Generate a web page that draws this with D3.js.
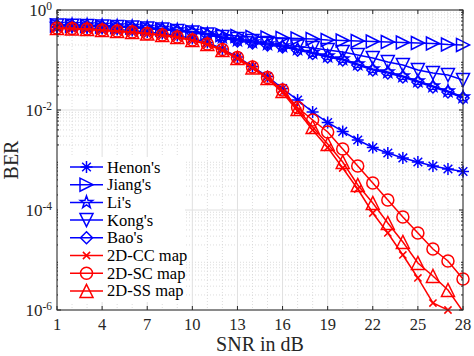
<!DOCTYPE html>
<html><head><meta charset="utf-8">
<script src="https://cdn.jsdelivr.net/npm/d3@7"></script>
<style>body{margin:0;background:#fff}svg{display:block}text{font-family:"Liberation Serif","Times New Roman",serif;fill:#262626}</style>
</head><body><svg id="c" width="474" height="356"></svg>
<script>
const snr = [1,2,3,4,5,6,7,8,9,10,11,12,13,14,15,16,17,18,19,20,21,22,23,24,25,26,27,28];
const xTicks = [1,4,7,10,13,16,19,22,25,28];
const yTicks = [1e-6,1e-4,1e-2,1];
const yTickExp = ["-6","-4","-2","0"];
const henon = [0.457,0.447,0.437,0.427,0.407,0.389,0.363,0.339,0.309,0.269,0.224,0.166,0.115,0.0741,0.0468,0.0269,0.0158,0.00912,0.00562,0.00372,0.00251,0.00178,0.00138,0.0011,0.000912,0.000759,0.000661,0.000589];
const jiang = [0.490,0.484,0.479,0.468,0.457,0.447,0.427,0.407,0.389,0.363,0.339,0.316,0.302,0.288,0.282,0.275,0.269,0.263,0.251,0.245,0.240,0.234,0.229,0.224,0.219,0.214,0.204,0.200];
const li = [0.513,0.507,0.501,0.490,0.479,0.468,0.447,0.426,0.398,0.372,0.331,0.288,0.251,0.229,0.209,0.191,0.166,0.141,0.120,0.105,0.0832,0.0661,0.0576,0.0479,0.0380,0.0302,0.0240,0.0182];
const kong = [0.490,0.484,0.479,0.468,0.457,0.447,0.427,0.407,0.380,0.355,0.324,0.288,0.263,0.240,0.219,0.200,0.186,0.174,0.158,0.145,0.126,0.110,0.0912,0.0794,0.0631,0.0550,0.0501,0.0398];
const bao = [0.490,0.484,0.479,0.468,0.457,0.447,0.427,0.407,0.380,0.355,0.316,0.275,0.240,0.219,0.200,0.182,0.158,0.135,0.115,0.100,0.0794,0.0631,0.0550,0.0457,0.0363,0.0288,0.0229,0.0174];
const cc = [0.427,0.417,0.407,0.389,0.372,0.355,0.331,0.309,0.282,0.245,0.204,0.155,0.107,0.0692,0.0417,0.0224,0.00955,0.00398,0.00178,6.92e-4,2.63e-4,8.71e-5,3.47e-5,1.26e-5,4.37e-6,1.38e-6,1.0e-6,3.16e-7];
const sc = [0.437,0.427,0.417,0.398,0.380,0.363,0.339,0.316,0.288,0.251,0.209,0.162,0.112,0.0724,0.0447,0.0251,0.0112,0.00631,0.00363,0.00166,7.59e-4,3.47e-4,1.58e-4,7.24e-5,3.47e-5,1.66e-5,9.55e-6,4.17e-6];
const ss = [0.437,0.427,0.417,0.398,0.380,0.363,0.339,0.316,0.288,0.251,0.209,0.158,0.110,0.0708,0.0437,0.0240,0.0105,0.00457,0.00209,9.12e-4,3.16e-4,1.38e-4,5.50e-5,2.29e-5,8.71e-6,4.79e-6,2.51e-6,9.33e-7];
const names = ["Henon's","Jiang's","Li's","Kong's","Bao's","2D-CC map","2D-SC map","2D-SS map"];
const seriesVals = [henon,jiang,li,kong,bao,cc,sc,ss];
const markers = ["asterisk","tri-right","star","tri-down","diamond","x","circle","tri-up"];
const colors = ["#0000ff","#0000ff","#0000ff","#0000ff","#0000ff","#ff0000","#ff0000","#ff0000"];

const svg = d3.select("#c");
const L=57,T=10,W=406,H=300;
const x = d3.scaleLinear().domain([1,28]).range([L,L+W]);
const y = d3.scaleLog().domain([1e-6,1]).range([T+H,T]);

// grids
const g = svg.append("g");
const minorY=[];
for(let e=-6;e<0;e++) for(let k=2;k<=9;k++) minorY.push(k*Math.pow(10,e));
const minorX = snr.filter(v=>!xTicks.includes(v));
g.selectAll(".mgy").data(minorY).join("line").attr("x1",L).attr("x2",L+W).attr("y1",d=>y(d)).attr("y2",d=>y(d))
 .attr("stroke","#d4d4d4").attr("stroke-width",0.8).attr("stroke-dasharray","1,2");
g.selectAll(".mgx").data(minorX).join("line").attr("y1",T).attr("y2",T+H).attr("x1",d=>x(d)).attr("x2",d=>x(d))
 .attr("stroke","#d4d4d4").attr("stroke-width",0.8).attr("stroke-dasharray","1,2");
g.selectAll(".gy").data(yTicks).join("line").attr("x1",L).attr("x2",L+W).attr("y1",d=>y(d)).attr("y2",d=>y(d))
 .attr("stroke","#e0e0e0").attr("stroke-width",1);
g.selectAll(".gx").data(xTicks).join("line").attr("y1",T).attr("y2",T+H).attr("x1",d=>x(d)).attr("x2",d=>x(d))
 .attr("stroke","#e0e0e0").attr("stroke-width",1);

function markerPath(type,s){
  const r=s/2;
  switch(type){
    case "asterisk": {const a=r*0.72;return `M${-r},0L${r},0M0,${-r}L0,${r}M${-a},${-a}L${a},${a}M${-a},${a}L${a},${-a}`;}
    case "x": {const a=r*0.72;return `M${-a},${-a}L${a},${a}M${-a},${a}L${a},${-a}`;}
    case "tri-right": return `M${r},0L${-r},${-r}L${-r},${r}Z`;
    case "tri-down": return `M0,${r}L${-r},${-r}L${r},${-r}Z`;
    case "tri-up": return `M0,${-r}L${-r},${r}L${r},${r}Z`;
    case "diamond": return `M0,${-r}L${r},0L0,${r}L${-r},0Z`;
    case "circle": return `M${r},0A${r},${r} 0 1,1 ${-r},0A${r},${r} 0 1,1 ${r},0Z`;
    case "star": {let p="";for(let i=0;i<10;i++){const rr=i%2?r*0.4:r;const a=-Math.PI/2+i*Math.PI/5;p+=(i?"L":"M")+(rr*Math.cos(a)).toFixed(2)+","+(rr*Math.sin(a)).toFixed(2);}return p+"Z";}
  }
}
const msize = {asterisk:12,x:10,"tri-right":13,"tri-down":13,"tri-up":13,diamond:12,circle:12,star:13};

svg.append("defs").append("clipPath").attr("id","clip").append("rect").attr("x",L).attr("y",T).attr("width",W).attr("height",H);
const line = d3.line().x(d=>x(d[0])).y(d=>y(d[1]));
const plot = svg.append("g");
seriesVals.forEach((vals,i)=>{
  const pts = snr.map((s,j)=>[s,vals[j]]);
  const sg = plot.append("g");
  sg.append("path").attr("d",line(pts)).attr("fill","none").attr("stroke",colors[i]).attr("stroke-width",1.5).attr("clip-path","url(#clip)");
  sg.selectAll("path.m").data(pts.filter(p=>p[1]>=0.99e-6)).join("path").attr("class","m")
    .attr("transform",d=>`translate(${x(d[0])},${y(d[1])})`)
    .attr("d",markerPath(markers[i],msize[markers[i]])).attr("fill","none").attr("stroke",colors[i]).attr("stroke-width",1.5);
});

// axes box
const ax = svg.append("g").attr("stroke","#262626").attr("stroke-width",1);
ax.append("rect").attr("x",L).attr("y",T).attr("width",W).attr("height",H).attr("fill","none");
xTicks.forEach(t=>{
  ax.append("line").attr("x1",x(t)).attr("x2",x(t)).attr("y1",T+H).attr("y2",T+H-4);
  ax.append("line").attr("x1",x(t)).attr("x2",x(t)).attr("y1",T).attr("y2",T+4);
});
yTicks.forEach(t=>{
  ax.append("line").attr("x1",L).attr("x2",L+4).attr("y1",y(t)).attr("y2",y(t));
  ax.append("line").attr("x1",L+W).attr("x2",L+W-4).attr("y1",y(t)).attr("y2",y(t));
});
minorY.forEach(t=>{
  ax.append("line").attr("x1",L).attr("x2",L+2).attr("y1",y(t)).attr("y2",y(t));
  ax.append("line").attr("x1",L+W).attr("x2",L+W-2).attr("y1",y(t)).attr("y2",y(t));
});

// tick labels
svg.selectAll(".xt").data(xTicks).join("text").attr("x",d=>x(d)).attr("y",T+H+20).attr("text-anchor","middle")
  .attr("font-size",16.5).text(d=>d);
yTicks.forEach((t,i)=>{
  const tx = svg.append("text").attr("x",L-5).attr("y",y(t)+6).attr("text-anchor","end").attr("font-size",17);
  tx.append("tspan").text("10");
  tx.append("tspan").attr("dy",-6).attr("font-size",11.5).text(yTickExp[i]);
});
svg.append("text").attr("x",L+W/2).attr("y",351).attr("text-anchor","middle").attr("font-size",20).text("SNR in dB");
svg.append("text").attr("transform",`translate(18,${T+H/2}) rotate(-90)`).attr("text-anchor","middle").attr("font-size",20).text("BER");

// legend
const lg = svg.append("g");
lg.append("rect").attr("x",L+1).attr("y",157).attr("width",127).attr("height",145).attr("fill","#fff");
names.forEach((n,i)=>{
  const yy = 167+i*17.7;
  lg.append("line").attr("x1",70).attr("x2",103).attr("y1",yy).attr("y2",yy).attr("stroke",colors[i]).attr("stroke-width",1.5);
  lg.append("path").attr("transform",`translate(86.5,${yy})`).attr("d",markerPath(markers[i],msize[markers[i]]))
    .attr("fill","none").attr("stroke",colors[i]).attr("stroke-width",1.5);
  lg.append("text").attr("x",107).attr("y",yy+5.5).attr("font-size",16.5).style("fill","#000").text(n);
});
</script></body></html>
